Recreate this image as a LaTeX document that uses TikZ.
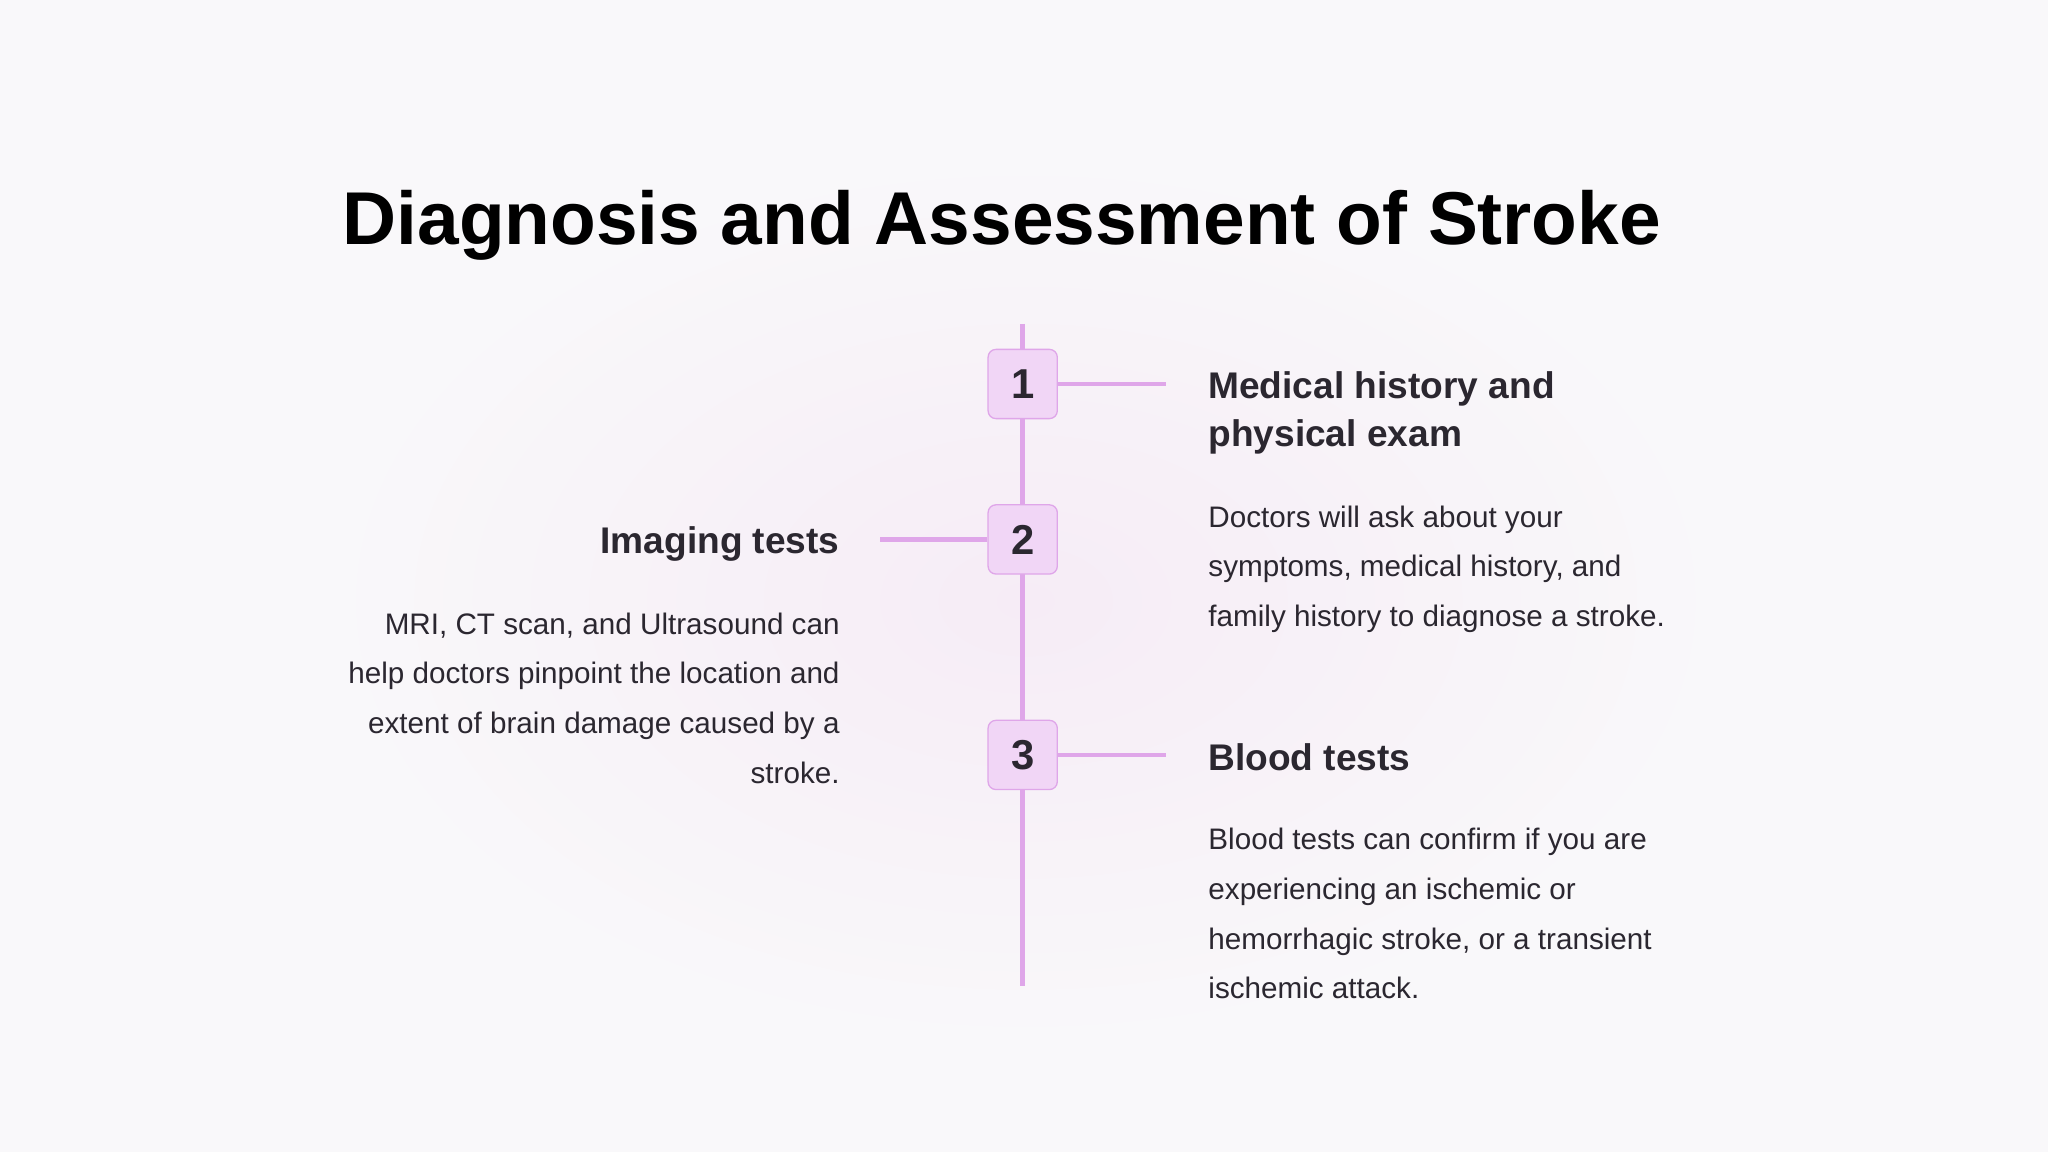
\documentclass[tikz,border=0pt]{standalone}
\usepackage{fontspec}
\setmainfont{Liberation Sans}
\definecolor{bg}{HTML}{F9F8FA}
\definecolor{pinkbg}{HTML}{F6ECF6}
\definecolor{lineC}{HTML}{DFA6E9}
\definecolor{boxF}{HTML}{F1D6F6}
\definecolor{txt}{HTML}{2B2730}
\tikzset{
  tl/.style={draw=lineC,line width=3.5pt},
  numbox/.style={draw=lineC,line width=1pt,fill=boxF,rounded corners=6pt,minimum width=53pt,minimum height=53pt,inner sep=0pt,font=\bfseries\fontsize{32}{32}\selectfont,text=txt},
  headR/.style={anchor=north west,align=left,font=\bfseries\fontsize{28.4}{37}\selectfont,text=txt,inner sep=0pt},
  headL/.style={anchor=north east,align=right,font=\bfseries\fontsize{28.4}{37}\selectfont,text=txt,inner sep=0pt},
  bodyR/.style={anchor=north west,align=left,font=\fontsize{22.7}{38}\selectfont,text=txt,inner sep=0pt},
  bodyL/.style={anchor=north east,align=right,font=\fontsize{22.7}{38}\selectfont,text=txt,inner sep=0pt}
}
\begin{document}
\begin{tikzpicture}[x=1pt,y=-1pt]
\useasboundingbox (0,0) rectangle (1568,882);
\fill[bg] (0,0) rectangle (1568,882);
\shade[inner color=pinkbg,outer color=bg] (250,120) rectangle (1320,800);
\node[anchor=base,font=\bfseries\fontsize{57.3}{57.3}\selectfont,text=black] (title) at (767,187) {Diagnosis and Assessment of Stroke};
\coordinate (top) at (783,248);
\coordinate (bot) at (783,755);
\draw[tl] (top) -- (bot);
\node[numbox] (b1) at (783,294) {1};
\node[numbox] (b2) at (783,413) {2};
\node[numbox] (b3) at (783,578) {3};
\coordinate (e1) at (893,294);
\coordinate (e2) at (674,413);
\coordinate (e3) at (893,578);
\draw[tl] (b1.east) -- (e1);
\draw[tl] (b2.west) -- (e2);
\draw[tl] (b3.east) -- (e3);
\node[headR] (h1) at (925,284) {Medical history and\\physical exam};
\node[bodyR] (t1) at (925,387) {Doctors will ask about your\\symptoms, medical history, and\\family history to diagnose a stroke.};
\node[headL] (h2) at (643,403) {Imaging tests};
\node[bodyL] (t2) at (643,469) {MRI, CT scan, and Ultrasound can\\help doctors pinpoint the location and\\extent of brain damage caused by a\\stroke.};
\node[headR] (h3) at (925,569) {Blood tests};
\node[bodyR] (t3) at (925,634) {Blood tests can confirm if you are\\experiencing an ischemic or\\hemorrhagic stroke, or a transient\\ischemic attack.};
\end{tikzpicture}
\end{document}
